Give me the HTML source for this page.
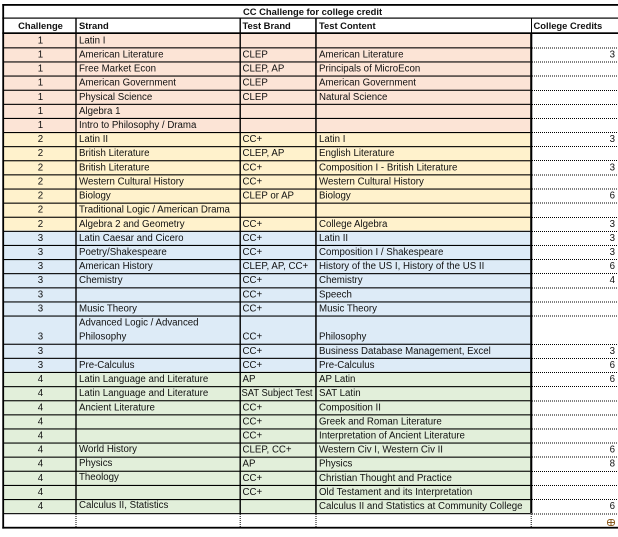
<!DOCTYPE html>
<html><head><meta charset="utf-8"><style>
html,body{margin:0;padding:0;background:#fff;}
svg{display:block;}
text{font-family:"Liberation Sans",Arial,sans-serif;font-size:9.7px;fill:#111;}
.h{font-weight:bold;font-size:9.4px;}
.c{text-anchor:middle;}
.r{text-anchor:end;}
</style></head><body>
<svg width="618" height="537" viewBox="0 0 618 537" xmlns="http://www.w3.org/2000/svg">
<rect x="0" y="0" width="618" height="537" fill="#fff"/>
<!-- row backgrounds -->
<rect x="4" y="33" width="526.5" height="98.8" fill="#FCE4D6"/>
<rect x="4" y="131.8" width="526.5" height="98.8" fill="#FFF2CC"/>
<rect x="4" y="230.6" width="526.5" height="141.14" fill="#DDEBF7"/>
<rect x="4" y="371.74" width="526.5" height="141.14" fill="#E2EFDA"/>

<!-- outer / major horizontal borders -->
<rect x="2.3" y="4" width="615.7" height="1.8" fill="#000"/>
<rect x="2.3" y="17.5" width="615.7" height="1.2" fill="#000"/>
<rect x="2.3" y="32.3" width="615.7" height="1.7" fill="#000"/>
<rect x="2.3" y="526.8" width="615.7" height="1.8" fill="#000"/>
<!-- left border -->
<rect x="2.3" y="4" width="1.8" height="524.6" fill="#000"/>

<!-- solid horizontal row lines A-D -->
<g fill="#000">
<rect x="4" y="47.3" width="526.5" height="1.1"/>
<rect x="4" y="61.4" width="526.5" height="1.1"/>
<rect x="4" y="75.5" width="526.5" height="1.1"/>
<rect x="4" y="89.7" width="526.5" height="1.1"/>
<rect x="4" y="103.8" width="526.5" height="1.1"/>
<rect x="4" y="117.9" width="526.5" height="1.1"/>
<rect x="4" y="132.0" width="526.5" height="1.1"/>
<rect x="4" y="146.1" width="526.5" height="1.1"/>
<rect x="4" y="160.2" width="526.5" height="1.1"/>
<rect x="4" y="174.3" width="526.5" height="1.1"/>
<rect x="4" y="188.5" width="526.5" height="1.1"/>
<rect x="4" y="202.6" width="526.5" height="1.1"/>
<rect x="4" y="216.7" width="526.5" height="1.1"/>
<rect x="4" y="230.8" width="526.5" height="1.1"/>
<rect x="4" y="244.9" width="526.5" height="1.1"/>
<rect x="4" y="259.0" width="526.5" height="1.1"/>
<rect x="4" y="273.1" width="526.5" height="1.1"/>
<rect x="4" y="287.3" width="526.5" height="1.1"/>
<rect x="4" y="301.4" width="526.5" height="1.1"/>
<rect x="4" y="315.5" width="526.5" height="1.1"/>
<rect x="4" y="343.7" width="526.5" height="1.1"/>
<rect x="4" y="357.8" width="526.5" height="1.1"/>
<rect x="4" y="371.9" width="526.5" height="1.1"/>
<rect x="4" y="386.1" width="526.5" height="1.1"/>
<rect x="4" y="400.2" width="526.5" height="1.1"/>
<rect x="4" y="414.3" width="526.5" height="1.1"/>
<rect x="4" y="428.4" width="526.5" height="1.1"/>
<rect x="4" y="442.5" width="526.5" height="1.1"/>
<rect x="4" y="456.6" width="526.5" height="1.1"/>
<rect x="4" y="470.7" width="526.5" height="1.1"/>
<rect x="4" y="484.9" width="526.5" height="1.1"/>
<rect x="4" y="499.0" width="526.5" height="1.1"/>
<rect x="4" y="513.1" width="526.5" height="1.1"/>
</g>

<!-- dotted horizontal lines in credits column -->
<g stroke="#000" stroke-width="1" stroke-dasharray="1,1">
<line x1="532" y1="48" x2="618" y2="48"/>
<line x1="532" y1="62" x2="618" y2="62"/>
<line x1="532" y1="76" x2="618" y2="76"/>
<line x1="532" y1="90.5" x2="618" y2="90.5"/>
<line x1="532" y1="104.5" x2="618" y2="104.5"/>
<line x1="532" y1="118.5" x2="618" y2="118.5"/>
<line x1="532" y1="132.5" x2="618" y2="132.5"/>
<line x1="532" y1="146.5" x2="618" y2="146.5"/>
<line x1="532" y1="160.5" x2="618" y2="160.5"/>
<line x1="532" y1="175" x2="618" y2="175"/>
<line x1="532" y1="189" x2="618" y2="189"/>
<line x1="532" y1="203" x2="618" y2="203"/>
<line x1="532" y1="217.5" x2="618" y2="217.5"/>
<line x1="532" y1="231.5" x2="618" y2="231.5"/>
<line x1="532" y1="245.5" x2="618" y2="245.5"/>
<line x1="532" y1="259.5" x2="618" y2="259.5"/>
<line x1="532" y1="273.5" x2="618" y2="273.5"/>
<line x1="532" y1="288" x2="618" y2="288"/>
<line x1="532" y1="302" x2="618" y2="302"/>
<line x1="532" y1="316" x2="618" y2="316"/>
<line x1="532" y1="344.5" x2="618" y2="344.5"/>
<line x1="532" y1="358.5" x2="618" y2="358.5"/>
<line x1="532" y1="372.5" x2="618" y2="372.5"/>
<line x1="532" y1="386.5" x2="618" y2="386.5"/>
<line x1="532" y1="401" x2="618" y2="401"/>
<line x1="532" y1="415" x2="618" y2="415"/>
<line x1="532" y1="429" x2="618" y2="429"/>
<line x1="532" y1="443" x2="618" y2="443"/>
<line x1="532" y1="457" x2="618" y2="457"/>
<line x1="532" y1="471.5" x2="618" y2="471.5"/>
<line x1="532" y1="485.5" x2="618" y2="485.5"/>
<line x1="532" y1="499.5" x2="618" y2="499.5"/>
<line x1="532" y1="514" x2="618" y2="514"/>
</g>

<!-- vertical lines -->
<g fill="#000">
<rect x="75.3" y="17.5" width="1.4" height="496"/>
<rect x="239.5" y="17.5" width="1.4" height="496"/>
<rect x="315.2" y="17.5" width="1.5" height="496"/>
<rect x="531" y="17.5" width="1" height="16"/>
<rect x="530.2" y="33" width="2.1" height="480.5"/>
</g>
<g stroke="#000" stroke-width="1" stroke-dasharray="1,1">
<line x1="76" y1="514" x2="76" y2="527"/>
<line x1="240.2" y1="514" x2="240.2" y2="527"/>
<line x1="316" y1="514" x2="316" y2="527"/>
<line x1="531.2" y1="514" x2="531.2" y2="527"/>
</g>

<!-- title & headers -->
<text class="h" x="243" y="15">CC Challenge for college credit</text>
<text class="h c" x="40.5" y="29">Challenge</text>
<text class="h" x="79" y="29">Strand</text>
<text class="h" x="242.5" y="29">Test Brand</text>
<text class="h" x="319" y="29">Test Content</text>
<text class="h" x="533.5" y="29">College Credits</text>

<!-- column A -->
<g>
<text class="c" x="40.5" y="43.3">1</text>
<text class="c" x="40.5" y="57.4">1</text>
<text class="c" x="40.5" y="71.5">1</text>
<text class="c" x="40.5" y="85.6">1</text>
<text class="c" x="40.5" y="99.8">1</text>
<text class="c" x="40.5" y="113.9">1</text>
<text class="c" x="40.5" y="128">1</text>
<text class="c" x="40.5" y="142.1">2</text>
<text class="c" x="40.5" y="156.2">2</text>
<text class="c" x="40.5" y="170.3">2</text>
<text class="c" x="40.5" y="184.4">2</text>
<text class="c" x="40.5" y="198.6">2</text>
<text class="c" x="40.5" y="212.7">2</text>
<text class="c" x="40.5" y="226.8">2</text>
<text class="c" x="40.5" y="240.9">3</text>
<text class="c" x="40.5" y="255">3</text>
<text class="c" x="40.5" y="269.1">3</text>
<text class="c" x="40.5" y="283.2">3</text>
<text class="c" x="40.5" y="297.4">3</text>
<text class="c" x="40.5" y="311.5">3</text>
<text class="c" x="40.5" y="339.7">3</text>
<text class="c" x="40.5" y="353.8">3</text>
<text class="c" x="40.5" y="367.9">3</text>
<text class="c" x="40.5" y="382">4</text>
<text class="c" x="40.5" y="396.2">4</text>
<text class="c" x="40.5" y="410.3">4</text>
<text class="c" x="40.5" y="424.4">4</text>
<text class="c" x="40.5" y="438.5">4</text>
<text class="c" x="40.5" y="452.6">4</text>
<text class="c" x="40.5" y="466.7">4</text>
<text class="c" x="40.5" y="480.8">4</text>
<text class="c" x="40.5" y="495">4</text>
<text class="c" x="40.5" y="509.1">4</text>
</g>

<!-- column B -->
<text x="79" y="43.3">Latin I</text>
<text x="79" y="57.4">American Literature</text>
<text x="79" y="71.5">Free Market Econ</text>
<text x="79" y="85.6">American Government</text>
<text x="79" y="99.8">Physical Science</text>
<text x="79" y="113.9">Algebra 1</text>
<text x="79" y="128">Intro to Philosophy / Drama</text>
<text x="79" y="142.1">Latin II</text>
<text x="79" y="156.2">British Literature</text>
<text x="79" y="170.3">British Literature</text>
<text x="79" y="184.4">Western Cultural History</text>
<text x="79" y="198.6">Biology</text>
<text x="79" y="212.7">Traditional Logic / American Drama</text>
<text x="79" y="226.8">Algebra 2 and Geometry</text>
<text x="79" y="240.9">Latin Caesar and Cicero</text>
<text x="79" y="255">Poetry/Shakespeare</text>
<text x="79" y="269.1">American History</text>
<text x="79" y="283.2">Chemistry</text>
<text x="79" y="311.5">Music Theory</text>
<text x="79" y="325.6">Advanced Logic / Advanced</text>
<text x="79" y="339.7">Philosophy</text>
<text x="79" y="367.9">Pre-Calculus</text>
<text x="79" y="382">Latin Language and Literature</text>
<text x="79" y="396.2">Latin Language and Literature</text>
<text x="79" y="410.3">Ancient Literature</text>
<text x="79" y="452">World History</text>
<text x="79" y="466">Physics</text>
<text x="79" y="480">Theology</text>
<text x="79" y="507.8">Calculus II, Statistics</text>

<!-- column C -->
<text x="242.5" y="57.4">CLEP</text>
<text x="242.5" y="71.5">CLEP, AP</text>
<text x="242.5" y="85.6">CLEP</text>
<text x="242.5" y="99.8">CLEP</text>
<text x="242.5" y="142.1">CC+</text>
<text x="242.5" y="156.2">CLEP, AP</text>
<text x="242.5" y="170.3">CC+</text>
<text x="242.5" y="184.4">CC+</text>
<text x="242.5" y="198.6">CLEP or AP</text>
<text x="242.5" y="226.8">CC+</text>
<text x="242.5" y="240.9">CC+</text>
<text x="242.5" y="255">CC+</text>
<text x="242.5" y="269.1">CLEP, AP, CC+</text>
<text x="242.5" y="283.2">CC+</text>
<text x="242.5" y="297.4">CC+</text>
<text x="242.5" y="311.5">CC+</text>
<text x="242.5" y="339.7">CC+</text>
<text x="242.5" y="353.8">CC+</text>
<text x="242.5" y="367.9">CC+</text>
<text x="242.5" y="382">AP</text>
<text x="241.5" y="396.2" textLength="71" lengthAdjust="spacingAndGlyphs">SAT Subject Test</text>
<text x="242.5" y="410.3">CC+</text>
<text x="242.5" y="424.4">CC+</text>
<text x="242.5" y="438.5">CC+</text>
<text x="242.5" y="452.6">CLEP, CC+</text>
<text x="242.5" y="466.7">AP</text>
<text x="242.5" y="480.8">CC+</text>
<text x="242.5" y="495">CC+</text>

<!-- column D -->
<text x="319" y="57.4">American Literature</text>
<text x="319" y="71.5">Principals of MicroEcon</text>
<text x="319" y="85.6">American Government</text>
<text x="319" y="99.8">Natural Science</text>
<text x="319" y="142.1">Latin I</text>
<text x="319" y="156.2">English Literature</text>
<text x="319" y="170.3">Composition I - British Literature</text>
<text x="319" y="184.4">Western Cultural History</text>
<text x="319" y="198.6">Biology</text>
<text x="319" y="226.8">College Algebra</text>
<text x="319" y="240.9">Latin II</text>
<text x="319" y="255">Composition I / Shakespeare</text>
<text x="319" y="269.1">History of the US I, History of the US II</text>
<text x="319" y="283.2">Chemistry</text>
<text x="319" y="297.4">Speech</text>
<text x="319" y="311.5">Music Theory</text>
<text x="319" y="339.7">Philosophy</text>
<text x="319" y="353.8">Business Database Management, Excel</text>
<text x="319" y="367.9">Pre-Calculus</text>
<text x="319" y="382">AP Latin</text>
<text x="319" y="396.2">SAT Latin</text>
<text x="319" y="410.3">Composition II</text>
<text x="319" y="424.4">Greek and Roman Literature</text>
<text x="319" y="438.5">Interpretation of Ancient Literature</text>
<text x="319" y="452.6">Western Civ I, Western Civ II</text>
<text x="319" y="466.7">Physics</text>
<text x="319" y="480.8">Christian Thought and Practice</text>
<text x="319" y="495">Old Testament and its Interpretation</text>
<text x="319" y="509.1">Calculus II and Statistics at Community College</text>

<!-- column E -->
<text class="r" x="615" y="57.4">3</text>
<text class="r" x="615" y="142.1">3</text>
<text class="r" x="615" y="170.3">3</text>
<text class="r" x="615" y="198.6">6</text>
<text class="r" x="615" y="226.8">3</text>
<text class="r" x="615" y="240.9">3</text>
<text class="r" x="615" y="255">3</text>
<text class="r" x="615" y="269.1">6</text>
<text class="r" x="615" y="283.2">4</text>
<text class="r" x="615" y="353.8">3</text>
<text class="r" x="615" y="367.9">6</text>
<text class="r" x="615" y="382">6</text>
<text class="r" x="615" y="452.6">6</text>
<text class="r" x="615" y="466.7">8</text>
<text class="r" x="615" y="509.1">6</text>

<!-- small paste-options style icon -->
<g fill="none" stroke="#8a5a20" stroke-width="1">
<rect x="607.5" y="519.5" width="7" height="6" rx="2.5"/>
<line x1="611" y1="519.5" x2="611" y2="525.5"/>
<line x1="607.5" y1="522.5" x2="614.5" y2="522.5"/>
</g>
</svg>
</body></html>
